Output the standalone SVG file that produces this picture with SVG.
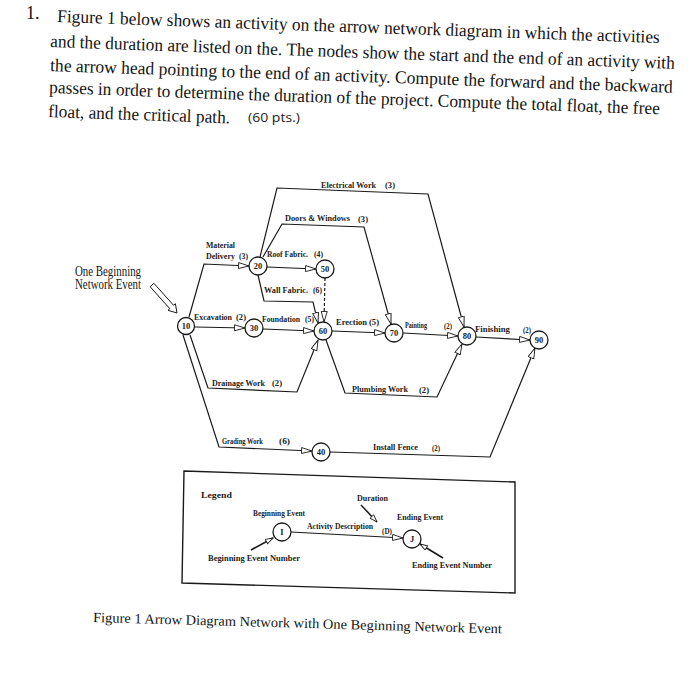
<svg xmlns="http://www.w3.org/2000/svg" width="700" height="690" viewBox="0 0 700 690">
<defs>
<marker id="ah" markerUnits="userSpaceOnUse" markerWidth="13" markerHeight="9" refX="11" refY="3.5" orient="auto">
<path d="M0.5,0.5 L11,3.5 L0.5,6.5 Z" fill="#fff" stroke="#1a1a1a" stroke-width="0.9"/>
</marker>
<marker id="ahs" markerUnits="userSpaceOnUse" markerWidth="10" markerHeight="8" refX="8" refY="3" orient="auto">
<path d="M0.5,0.5 L8,3 L0.5,5.5 Z" fill="#fff" stroke="#1a1a1a" stroke-width="0.9"/>
</marker>
</defs>
<style>
.hd{font-family:"Liberation Serif","Times New Roman",serif;font-size:18px;fill:#151515;}
.ln{fill:none;stroke:#1a1a1a;stroke-width:1.2;}
.ar{marker-end:url(#ah);}
.lb{font-family:"Liberation Serif","Times New Roman",serif;font-size:9px;font-weight:bold;fill:#222;}
.nd circle{fill:#fff;stroke:#1a1a1a;stroke-width:1.3;}
.nd text{font-family:"Liberation Serif","Times New Roman",serif;font-size:8.5px;font-weight:bold;text-anchor:middle;fill:#222;}
.cap{font-family:"Liberation Serif","Times New Roman",serif;font-size:14px;fill:#151515;}
</style>
<rect width="700" height="690" fill="#fff"/>

<g id="question">
<text class="hd" x="26" y="19">1.</text>
<text class="hd" x="57" y="22" textLength="603" lengthAdjust="spacingAndGlyphs" transform="rotate(2 57 22)">Figure 1 below shows an activity on the arrow network diagram in which the activities</text>
<text class="hd" x="50" y="47" textLength="625" lengthAdjust="spacingAndGlyphs" transform="rotate(2 50 47)">and the duration are listed on the. The nodes show the start and the end of an activity with</text>
<text class="hd" x="50" y="71" textLength="623" lengthAdjust="spacingAndGlyphs" transform="rotate(2 50 71)">the arrow head pointing to the end of an activity.  Compute the forward and the backward</text>
<text class="hd" x="49" y="93" textLength="611" lengthAdjust="spacingAndGlyphs" transform="rotate(2 49 93)">passes in order to determine the duration of the project. Compute the total float, the free</text>
<text class="hd" x="48" y="117" textLength="182" lengthAdjust="spacingAndGlyphs" transform="rotate(2 48 117)">float, and the critical path.</text>
<text x="248" y="122" font-family="'Open Sans','Liberation Sans',sans-serif" font-size="13" fill="#222" textLength="52" lengthAdjust="spacingAndGlyphs">(60 pts.)</text>
</g>

<g id="start-note">
<text class="cap" x="75" y="275.5" font-size="10.5" textLength="66" lengthAdjust="spacingAndGlyphs">One Beginning</text>
<text class="cap" x="75" y="289" font-size="10.5" textLength="66" lengthAdjust="spacingAndGlyphs">Network Event</text>
<polygon points="153.9,283.3 173.6,305.3 175.4,303.7 177,313 168,310.3 169.8,308.7 150.1,286.7" fill="#fff" stroke="#1a1a1a" stroke-width="1"/>
</g>

<g id="connectors">
<polyline class="ln ar" points="189,317 204,264 249,266"/>
<polyline class="ln ar" points="195,327 245,328"/>
<polyline class="ln ar" points="263,329 314,331"/>
<polyline class="ln ar" points="267,267 316,269"/>
<polyline class="ln ar" points="325,278 324,322" stroke-dasharray="3,2"/>
<polyline class="ln ar" points="258,275 264,301 313,302 318,323"/>
<polyline class="ln ar" points="260,257 277,188 428,194 464,327"/>
<polyline class="ln ar" points="263,257 282,224 364,227 391,324"/>
<polyline class="ln ar" points="332,331 385,333"/>
<polyline class="ln ar" points="403,333 458,336"/>
<polyline class="ln ar" points="476,337 530,340"/>
<polyline class="ln ar" points="190,335 208,388 297,392 318,340"/>
<polyline class="ln ar" points="183,335 219,447 312,451"/>
<polyline class="ln ar" points="326,340 345,393 437,397 462,344"/>
<polyline class="ln ar" points="330,452 490,457 535,348"/>
</g>

<g id="labels">
<text class="lb" x="321" y="188" textLength="55" lengthAdjust="spacingAndGlyphs">Electrical Work</text>
<text class="lb" x="385" y="188" textLength="10" lengthAdjust="spacingAndGlyphs">(3)</text>
<text class="lb" x="285" y="221" textLength="65" lengthAdjust="spacingAndGlyphs">Doors &amp; Windows</text>
<text class="lb" x="358" y="222" textLength="10" lengthAdjust="spacingAndGlyphs">(3)</text>
<text class="lb" x="206" y="248" textLength="29" lengthAdjust="spacingAndGlyphs">Material</text>
<text class="lb" x="206" y="259" textLength="29" lengthAdjust="spacingAndGlyphs">Delivery</text>
<text class="lb" x="239" y="259" textLength="9" lengthAdjust="spacingAndGlyphs">(3)</text>
<text class="lb" x="267" y="257" textLength="41" lengthAdjust="spacingAndGlyphs">Roof Fabric.</text>
<text class="lb" x="314" y="257" textLength="9" lengthAdjust="spacingAndGlyphs">(4)</text>
<text class="lb" x="264" y="293" textLength="44" lengthAdjust="spacingAndGlyphs">Wall Fabric.</text>
<text class="lb" x="313" y="293" textLength="9" lengthAdjust="spacingAndGlyphs">(6)</text>
<text class="lb" x="194" y="320" textLength="38" lengthAdjust="spacingAndGlyphs">Excavation</text>
<text class="lb" x="236" y="320" textLength="10" lengthAdjust="spacingAndGlyphs">(2)</text>
<text class="lb" x="262" y="322" textLength="38" lengthAdjust="spacingAndGlyphs">Foundation</text>
<text class="lb" x="305" y="322" textLength="9" lengthAdjust="spacingAndGlyphs">(5)</text>
<text class="lb" x="336" y="325" textLength="31" lengthAdjust="spacingAndGlyphs">Erection</text>
<text class="lb" x="369" y="325" textLength="10" lengthAdjust="spacingAndGlyphs">(5)</text>
<text class="lb" x="405" y="328" textLength="22" lengthAdjust="spacingAndGlyphs">Painting</text>
<text class="lb" x="444" y="329" textLength="8" lengthAdjust="spacingAndGlyphs">(2)</text>
<text class="lb" x="475" y="332" textLength="35" lengthAdjust="spacingAndGlyphs">Finishing</text>
<text class="lb" x="523" y="333" textLength="8" lengthAdjust="spacingAndGlyphs">(2)</text>
<text class="lb" x="212" y="386" textLength="53" lengthAdjust="spacingAndGlyphs">Drainage Work</text>
<text class="lb" x="272" y="386" textLength="10" lengthAdjust="spacingAndGlyphs">(2)</text>
<text class="lb" x="352" y="392" textLength="56" lengthAdjust="spacingAndGlyphs">Plumbing Work</text>
<text class="lb" x="419" y="393" textLength="10" lengthAdjust="spacingAndGlyphs">(2)</text>
<text class="lb" x="222" y="444" textLength="41" lengthAdjust="spacingAndGlyphs">Grading Work</text>
<text class="lb" x="279" y="444" textLength="11" lengthAdjust="spacingAndGlyphs">(6)</text>
<text class="lb" x="373" y="450" textLength="45" lengthAdjust="spacingAndGlyphs">Install Fence</text>
<text class="lb" x="432" y="451" textLength="8" lengthAdjust="spacingAndGlyphs">(2)</text>
</g>

<g id="n10" class="nd"><circle cx="186" cy="326" r="8.5"/><text x="186" y="329">10</text></g>
<g id="n20" class="nd"><circle cx="258" cy="266" r="9"/><text x="258" y="269">20</text></g>
<g id="n30" class="nd"><circle cx="254" cy="328" r="9"/><text x="254" y="331">30</text></g>
<g id="n50" class="nd"><circle cx="325" cy="269" r="9"/><text x="325" y="272">50</text></g>
<g id="n60" class="nd"><circle cx="323" cy="331" r="9"/><text x="323" y="334">60</text></g>
<g id="n70" class="nd"><circle cx="394" cy="333" r="9"/><text x="394" y="336">70</text></g>
<g id="n80" class="nd"><circle cx="467" cy="336" r="9"/><text x="467" y="339">80</text></g>
<g id="n90" class="nd"><circle cx="539" cy="340" r="9"/><text x="539" y="343">90</text></g>
<g id="n40" class="nd"><circle cx="321" cy="452" r="9"/><text x="321" y="455">40</text></g>

<g id="legend">
<polygon points="184,471 515,482 515,593 182,583" fill="none" stroke="#1a1a1a" stroke-width="1.4"/>
<text class="lb" x="201" y="498" font-size="12" textLength="31" lengthAdjust="spacingAndGlyphs">Legend</text>
<text class="lb" x="357" y="501" font-size="8" textLength="31" lengthAdjust="spacingAndGlyphs">Duration</text>
<text class="lb" x="253" y="516" font-size="8" textLength="52" lengthAdjust="spacingAndGlyphs">Beginning Event</text>
<text class="lb" x="397" y="520" font-size="8" textLength="46" lengthAdjust="spacingAndGlyphs">Ending Event</text>
<text class="lb" x="307" y="529" font-size="7" textLength="66" lengthAdjust="spacingAndGlyphs">Activity Description</text>
<text class="lb" x="382" y="534" font-size="7.5" textLength="10" lengthAdjust="spacingAndGlyphs">(D)</text>
<text class="lb" x="208" y="561" font-size="8" textLength="92" lengthAdjust="spacingAndGlyphs">Beginning Event Number</text>
<text class="lb" x="412" y="568" font-size="8" textLength="80" lengthAdjust="spacingAndGlyphs">Ending Event Number</text>
<line x1="361" y1="505" x2="377" y2="522" stroke="#1a1a1a" stroke-width="1.5" marker-end="url(#ahs)"/>
<line x1="251" y1="550" x2="273" y2="538" stroke="#1a1a1a" stroke-width="1.6" marker-end="url(#ahs)"/>
<line x1="443" y1="558" x2="420" y2="544" stroke="#1a1a1a" stroke-width="1.6" marker-end="url(#ahs)"/>
<line x1="291" y1="532" x2="403" y2="538" class="ln" marker-end="url(#ah)"/>
<g id="nI" class="nd"><circle cx="282" cy="532" r="9"/><text x="282" y="535">I</text></g>
<g id="nJ" class="nd"><circle cx="412" cy="539" r="9"/><text x="412" y="542">J</text></g>
</g>

<text class="cap" x="93" y="622" textLength="409" lengthAdjust="spacingAndGlyphs" transform="rotate(1.6 93 622)">Figure 1  Arrow Diagram Network with One Beginning Network Event</text>
</svg>
